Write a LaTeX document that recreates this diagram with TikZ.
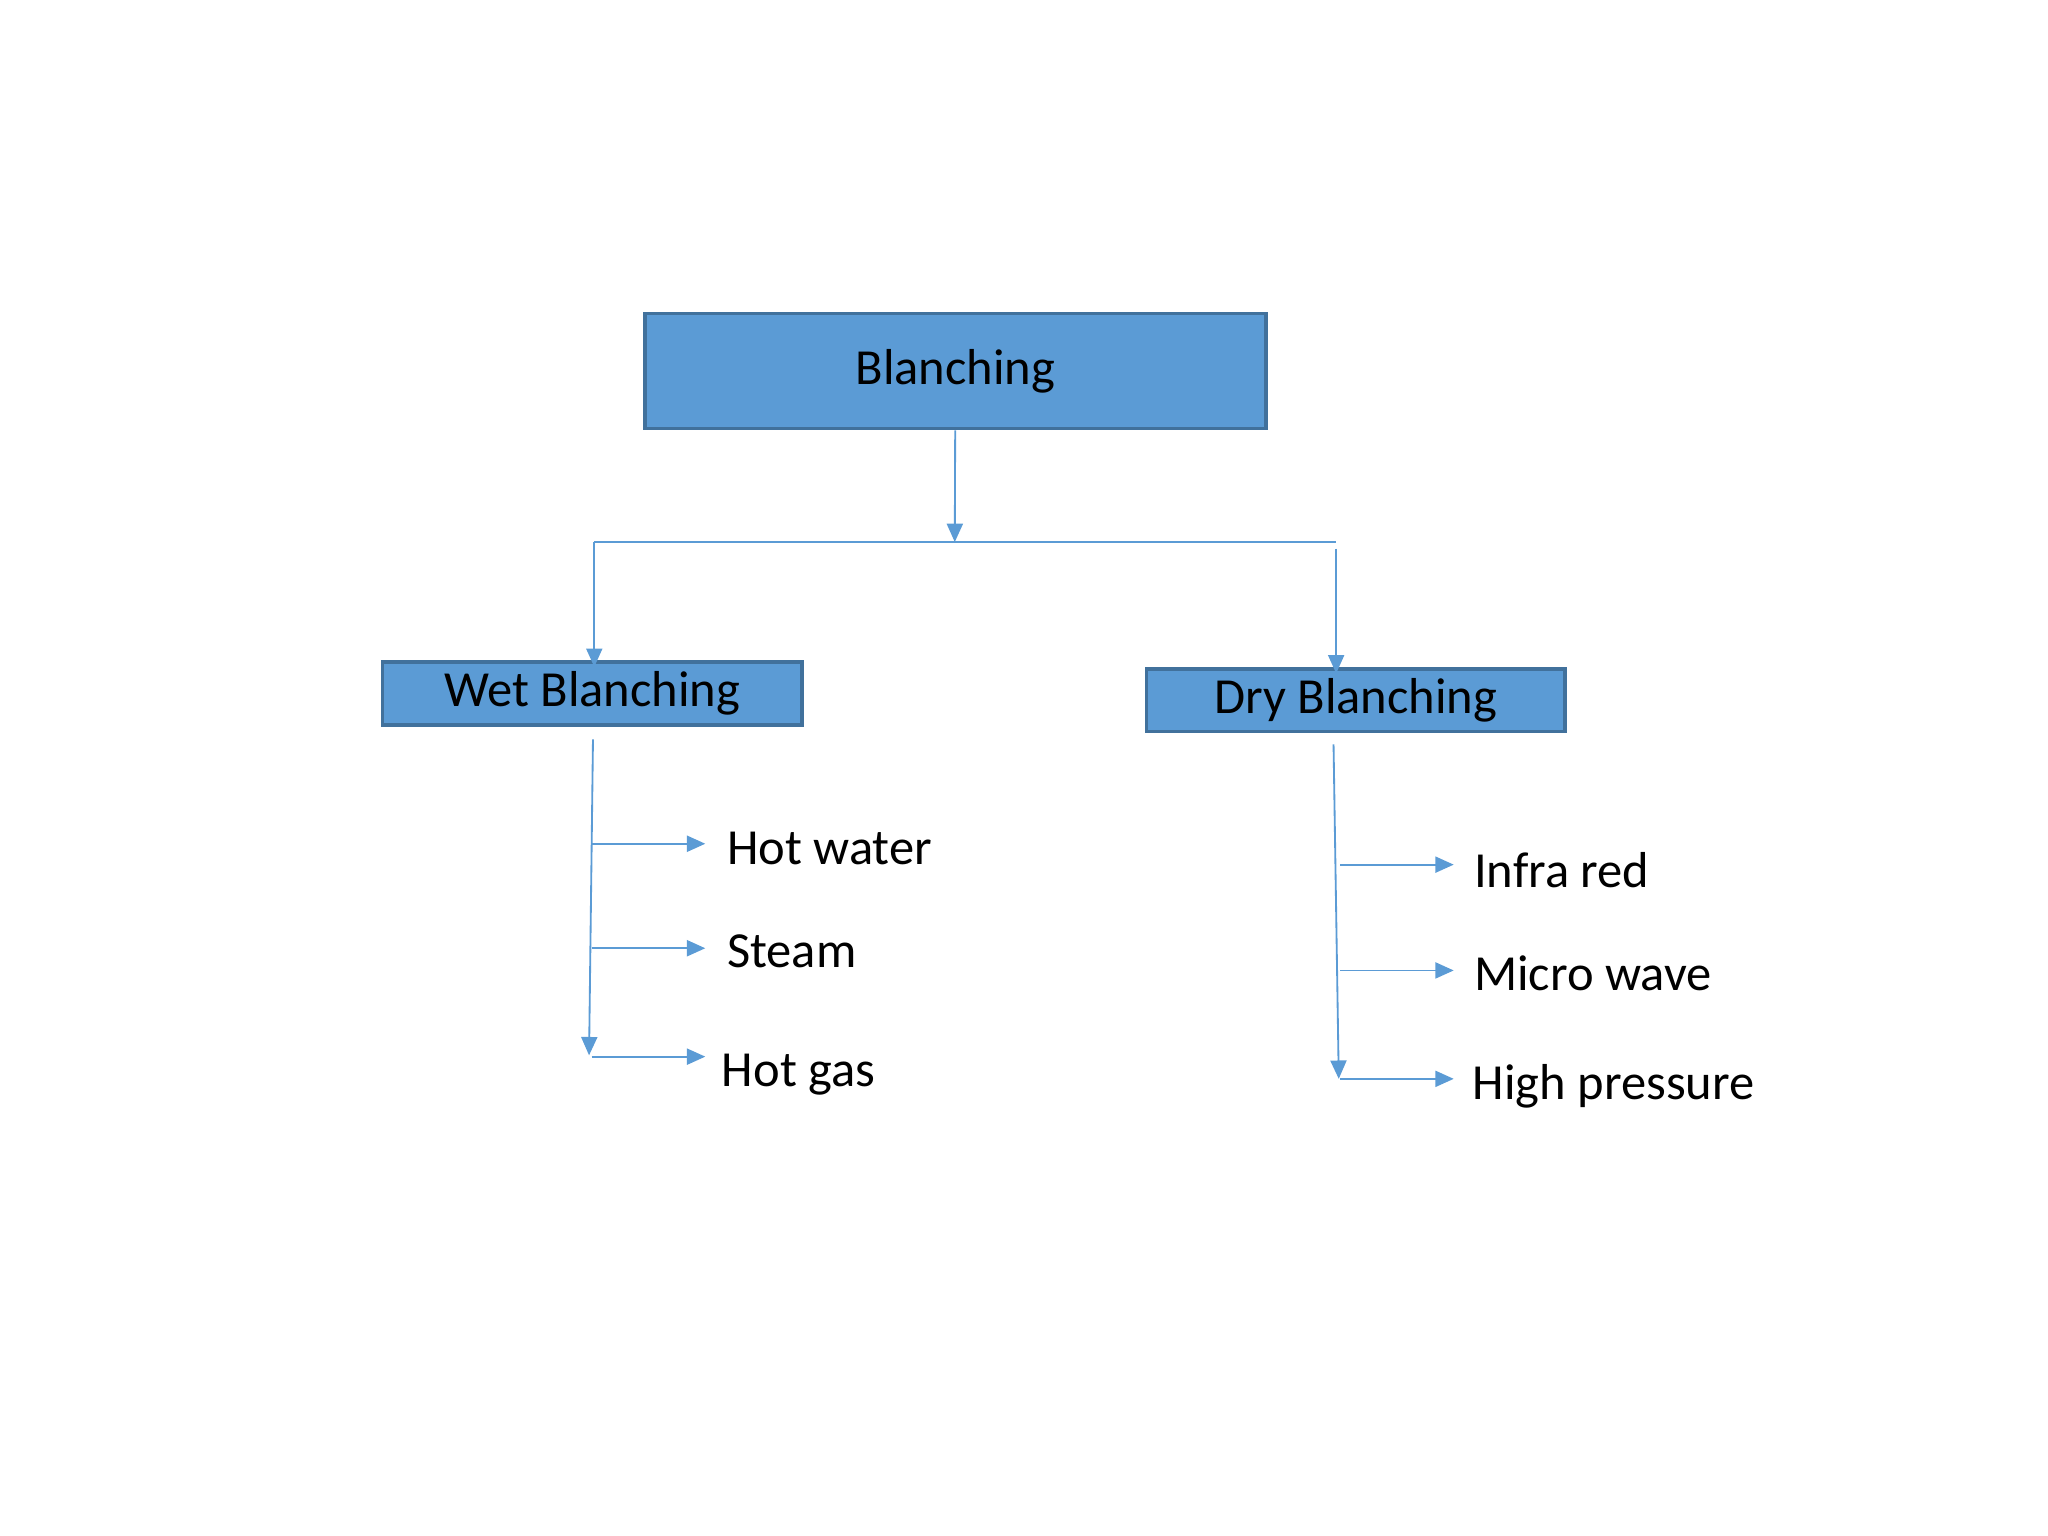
\documentclass[tikz,border=0pt]{standalone}
\usepackage{fontspec}
\setmainfont{Carlito}
\usetikzlibrary{arrows.meta,positioning}
\definecolor{boxfill}{HTML}{5B9BD5}
\definecolor{boxline}{HTML}{41719C}
\begin{document}
\begin{tikzpicture}[
			x=0.01cm, y=-0.01cm,
			box/.style={draw=boxline,fill=boxfill,thick,inner sep=0pt,font=\fontsize{11}{13}\selectfont},
			item/.style={anchor=west,inner sep=0pt,font=\fontsize{11}{13}\selectfont},
			link/.style={draw=boxfill,thin,-{Triangle[length=4pt,width=3.5pt]}}
		]
		\useasboundingbox (0,0) rectangle (1568,1176);

		\node[box,minimum width=4.75cm,minimum height=0.88cm] (root) at (731.5,284) {Blanching};
		\node[box,minimum width=3.21cm,minimum height=0.48cm] (wet) at (453.5,531) {Wet Blanching};
		\node[box,minimum width=3.20cm,minimum height=0.48cm] (dry) at (1038,536) {Dry Blanching};

		\coordinate (mid) at (731,415);
		\coordinate (jl) at (455,415);
		\coordinate (jr) at (1023,415);
		\draw[link] (root) -- (mid);
		\draw[boxfill,thin] (jl) -- (jr);
		\draw[link] (jl) -- ([yshift=-0.05cm]wet.north -| jl);
		\draw[link] ([yshift=-0.05cm]jr) -- ([yshift=-0.05cm]dry.north -| jr);

		% wet branch
		\node[item] (water) at (556,650) {Hot water};
		\node[item] (steam) at (556,728) {Steam};
		\node[item] (gas) at (552,823) {Hot gas};
		\coordinate (wtop) at (454,566);
		\coordinate (wbot) at (451,808);
		\draw[link] (wtop) -- (wbot);
		\foreach \n/\y in {water/646,steam/726,gas/809}
			\draw[link] (453,\y) -- (540,\y);

		% dry branch
		\node[item] (infra) at (1128,666) {Infra red};
		\node[item] (micro) at (1128,745) {Micro wave};
		\node[item] (press) at (1127,832) {High pressure};
		\coordinate (dtop) at (1021,570);
		\coordinate (dbot) at (1025,826);
		\draw[link] (dtop) -- (dbot);
		\foreach \n/\y in {infra/662,micro/743,press/826}
			\draw[link] (1026,\y) -- (1113,\y);
	\end{tikzpicture}
\end{document}
